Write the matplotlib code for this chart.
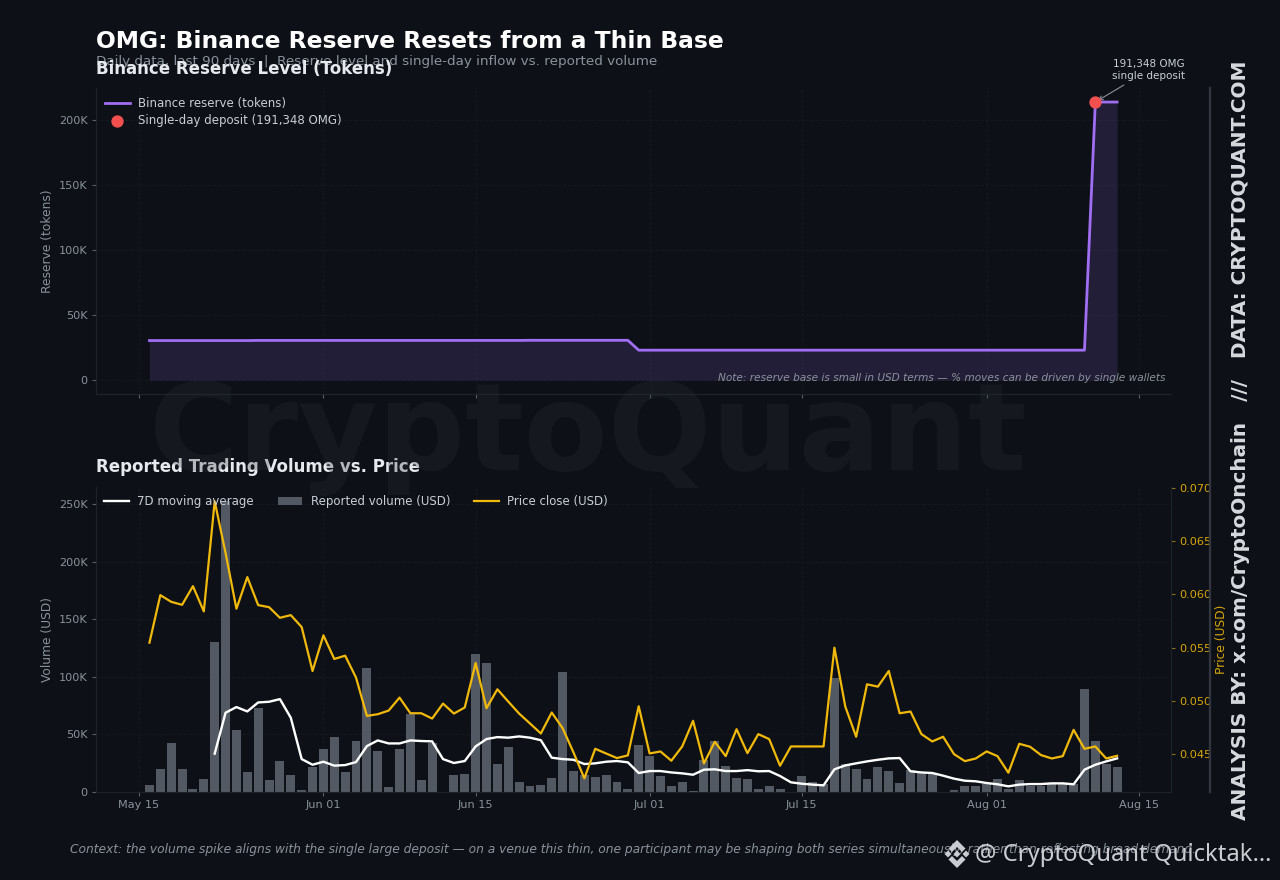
import numpy as np
import pandas as pd
import matplotlib
matplotlib.use("Agg")
import matplotlib.pyplot as plt
import matplotlib.dates as mdates
from matplotlib.patches import Polygon
from matplotlib.ticker import FuncFormatter, FixedLocator

W, H = 1280, 880
BG = "#0d1117"

dates = pd.date_range("2025-05-16", periods=90, freq="D")

reserve_k = [30.4,30.4,30.4,30.4,30.4,30.4,30.4,30.4,30.4,30.4,
             30.5,30.5,30.5,30.5,30.5,30.5,30.5,30.5,30.5,30.5,
             30.5,30.5,30.5,30.5,30.5,30.5,30.5,30.5,30.5,30.5,
             30.5,30.5,30.5,30.5,30.5,30.6,30.6,30.6,30.6,30.6,
             30.6,30.6,30.6,30.6,30.6,
             23.0,23.0,23.0,23.0,23.0,23.0,23.0,23.0,23.0,23.0,
             23.0,23.0,23.0,23.0,23.0,23.0,23.0,23.0,23.0,23.0,
             23.0,23.0,23.0,23.0,23.0,23.0,23.0,23.0,23.0,23.0,
             23.0,23.0,23.0,23.0,23.0,23.0,23.0,23.0,23.0,23.0,
             23.0,23.0,
             213.8,213.8,213.8]

volume_k = [6.4,19.7,43,20,3,11,130,253,54,17,72.6,10,26.6,15,1.5,21.4,37,48,17,44,
            108,36,4,37,67.4,10,43,0,14.5,16,119.5,112,24,39,9,5,6.4,12,104.5,18,
            15,13,15,8.4,3,41,31,14,5,9,0.5,28,44,23,12,11,2.3,5,3,0.3,
            14,8.4,7,98.7,24.6,20,11,22,18,7.5,19,17,16,0.2,1.5,5,5,7,11,2.6,
            10,5,5,7,7,7,89.7,44,24,22]

ma7_k = [33.3,68.9,73.8,70,77.8,78.4,80.7,64.5,28.6,23.7,26.3,22.9,23.4,26,39.9,44.8,
         42.2,42.2,44.8,44.3,44,28.6,25.2,26.9,39.6,46,47.7,47.2,48.3,47.2,45,29.8,
         28.6,28,24.3,24.9,26.3,26.9,25.8,16.5,18.2,18.2,17,16.2,15,19.4,19.7,18.2,
         18.2,19,18,18.2,13.9,8.4,7.2,6.4,5.8,19.7,23.1,24.9,26.6,28,29.2,29.5,
         18,17,16.5,14.2,11.6,9.8,9.3,7.8,6.7,4.9,6.4,6.9,6.9,7.5,7.5,6.7,19.4,23.7,26.6,29.2]

price = [.05547,.05994,.05931,.05903,.06078,.05841,.06875,.0639,.05866,.06163,.059,.05881,
         .05781,.05806,.05694,.05281,.05616,.05394,.05425,.05219,.04859,.04875,.04909,.05031,
         .04884,.04884,.04834,.04975,.04881,.04938,.05356,.04931,.05109,.04994,.04881,.04788,
         .04694,.04891,.04744,.04516,.04272,.0455,.04506,.04463,.04488,.0495,.04506,.04525,
         .04438,.04572,.04813,.04413,.04616,.04481,.04734,.04509,.04688,.04641,.04391,.04572,
         .04572,.04572,.04572,.055,.04947,.04663,.05156,.05134,.05281,.04884,.049,.04688,
         .04619,.04663,.045,.04434,.04459,.04525,.04481,.04325,.04597,.04569,.04491,.04459,
         .04481,.04728,.0455,.04572,.04459,.04484]

deposit_date = "2025-08-11"
deposit_k = 213.8
tick_dates = ["2025-05-15","2025-06-01","2025-06-15","2025-07-01","2025-07-15","2025-08-01","2025-08-15"]
reserve_ticks = [0,50,100,150,200]
volume_ticks = [0,50,100,150,200,250]
price_ticks = [0.045,0.050,0.055,0.060,0.065,0.070]

PURPLE = "#a06ef2"
RED = "#f2504f"
GOLD = "#f0b90b"
GOLD_DIM = "#d8a60c"
GREY = "#8b919a"
LIGHT = "#c9ced6"
SPINE = "#1e232a"
GRIDC = "#151a21"

plt.rcParams["font.family"] = ["DejaVu Sans"]
fig = plt.figure(figsize=(W/100, H/100), dpi=100, facecolor=BG)

def box(l, t, r, b):
    return [l/W, 1-b/H, (r-l)/W, (b-t)/H]

fig.text(588/W, 1-470/H, "CryptoQuant", ha="center", va="baseline", fontsize=88,
         fontweight="bold", color="#2c3138", alpha=0.26, zorder=10)

ax1 = fig.add_axes(box(96, 88, 1171, 394))
ax2 = fig.add_axes(box(96, 487, 1171, 792))
for ax in (ax1, ax2):
    ax.patch.set_alpha(0)
    ax.set_xlim(pd.Timestamp("2025-05-11 02:00"), pd.Timestamp("2025-08-17 23:00"))
    ax.xaxis.set_major_locator(FixedLocator([mdates.date2num(pd.Timestamp(d)) for d in tick_dates]))
    ax.xaxis.set_major_formatter(mdates.DateFormatter("%b %d"))
    ax.grid(True, color=GRIDC, lw=0.7, ls=(0, (3, 2)))
    ax.set_axisbelow(True)
    for s in ("top", "right"):
        ax.spines[s].set_visible(False)
    for s in ("left", "bottom"):
        ax.spines[s].set_color(SPINE)
    ax.tick_params(colors=GREY, labelsize=8.1, color="#5a5f67", length=3, width=0.8, pad=3)
    ax.yaxis.set_major_formatter(FuncFormatter(lambda v, p: "0" if v == 0 else f"{v:.0f}K"))

# top panel
reserve = np.array(reserve_k)
ax1.fill_between(dates, 0, reserve, color=PURPLE, alpha=0.15, lw=0)
ax1.plot(dates, reserve, color=PURPLE, lw=2, label="Binance reserve (tokens)")
ax1.scatter([pd.Timestamp(deposit_date)], [deposit_k], s=62, color=RED, zorder=5,
            label="Single-day deposit (191,348 OMG)")
ax1.set_ylim(-10.7, 224.6)
ax1.set_yticks(reserve_ticks)
ax1.tick_params(axis="x", labelbottom=False)
ax1.set_ylabel("Reserve (tokens)", color=GREY, fontsize=8.8)
ax1.yaxis.set_label_coords(-42/1075, 0.5)
ax1.legend(loc="upper left", frameon=False, fontsize=8.5, labelcolor=LIGHT,
           bbox_to_anchor=(0.0, 1.0), borderaxespad=0.35, labelspacing=0.35,
           handlelength=2.1, handletextpad=0.7)
ax1.annotate("191,348 OMG\nsingle deposit", xy=(pd.Timestamp(deposit_date), deposit_k),
             xytext=(1149/W, 1-70/H), textcoords="figure fraction",
             ha="center", va="center", fontsize=7.5, color=LIGHT,
             arrowprops=dict(arrowstyle="->", color=GREY, lw=0.8, shrinkA=2, shrinkB=2))
ax1.text(1166/W, 1-378/H, "Note: reserve base is small in USD terms \u2014 % moves can be driven by single wallets",
         transform=fig.transFigure, ha="right", va="center", fontsize=7.6, style="italic", color=GREY)

# bottom panel
ax2.bar(dates, volume_k, width=0.82, color="#555c65", lw=0, label="Reported volume (USD)", alpha=0.97)
ax2.plot(dates[6:], ma7_k, color="white", lw=1.7, label="7D moving average")
ax2.set_ylim(0, 265)
ax2.set_yticks(volume_ticks)
ax2.set_ylabel("Volume (USD)", color=GREY, fontsize=8.8)
ax2.yaxis.set_label_coords(-42/1075, 0.5)

ax3 = ax2.twinx()
ax3.patch.set_alpha(0)
ax3.plot(dates, price, color=GOLD, lw=1.6, label="Price close (USD)")
ax3.set_ylim(0.04144, 0.0701)
ax3.set_yticks(price_ticks)
ax3.yaxis.set_major_formatter(FuncFormatter(lambda v, p: f"{v:.3f}"))
ax3.tick_params(axis="y", colors=GOLD_DIM, labelsize=8.1, color="#8a7215", length=3, width=0.8, pad=3)
ax3.set_ylabel("Price (USD)", color=GOLD_DIM, fontsize=8.8)
ax3.yaxis.set_label_coords(1.0 + 44/1075, 0.5)
for s in ("top", "left", "bottom"):
    ax3.spines[s].set_visible(False)
ax3.spines["right"].set_color(SPINE)

h1, l1 = ax2.get_legend_handles_labels()
h2, l2 = ax3.get_legend_handles_labels()
ax3.legend(h1 + h2, l1 + l2, loc="upper left", ncol=3, frameon=False, fontsize=8.5,
           labelcolor=LIGHT, bbox_to_anchor=(0.0, 1.0), borderaxespad=0.3,
           handlelength=2.1, handletextpad=0.7, columnspacing=2.0)

# headline text
fig.text(96/W, 1-42/H, "OMG: Binance Reserve Resets from a Thin Base", fontsize=16.8,
         fontweight="bold", color="white", va="center", ha="left")
fig.text(96/W, 1-62/H, "Daily data, last 90 days  |  Reserve level and single-day inflow vs. reported volume",
         fontsize=9.7, color=GREY, va="center", ha="left")
fig.text(96/W, 1-69/H, "Binance Reserve Level (Tokens)", fontsize=12, fontweight="bold",
         color="#e6e9ee", va="center", ha="left")
fig.text(96/W, 1-467/H, "Reported Trading Volume vs. Price", fontsize=12, fontweight="bold",
         color="#e6e9ee", va="center", ha="left")
fig.text(70/W, 1-849/H,
         "Context: the volume spike aligns with the single large deposit \u2014 on a venue this thin, one participant may be shaping both series simultaneously, rather than reflecting broad demand.",
         fontsize=8.8, style="italic", color=GREY, va="center", ha="left")

# right rail
fig.add_artist(plt.Line2D([1209.5/W, 1209.5/W], [1-88/H, 1-792/H], color="#32373f", lw=1.6, zorder=6))
fig.text(1241/W, 1-440/H, "ANALYSIS BY: x.com/CryptoOnchain   ///   DATA: CRYPTOQUANT.COM",
         rotation=90, ha="center", va="center", fontsize=14.4, fontweight="bold", color="#d6d9de")

# footer mark
fig.text(975/W, 1-855/H, "@ CryptoQuant Quicktak\u2026", fontsize=17.2, family="Noto Sans",
         color="#c9ccd1", va="center", ha="left", zorder=11)
cx, cy = 957, 854
def px(points):
    return [((cx+x)/W, 1-(cy+y)/H) for x, y in points]
shapes = [
    [(0,-3.5),(3.5,0),(0,3.5),(-3.5,0)],
    [(-9,-3.5),(-5.5,0),(-9,3.5),(-12.5,0)],
    [(9,-3.5),(12.5,0),(9,3.5),(5.5,0)],
    [(0,-14),(8.5,-5.5),(5,-2),(0,-7),(-5,-2),(-8.5,-5.5)],
    [(0,14),(8.5,5.5),(5,2),(0,7),(-5,2),(-8.5,5.5)],
]
for s in shapes:
    fig.add_artist(Polygon(px(s), closed=True, transform=fig.transFigure, color="#c9ccd1", lw=0, zorder=11))

fig.savefig("out.png", dpi=100, facecolor=BG)
